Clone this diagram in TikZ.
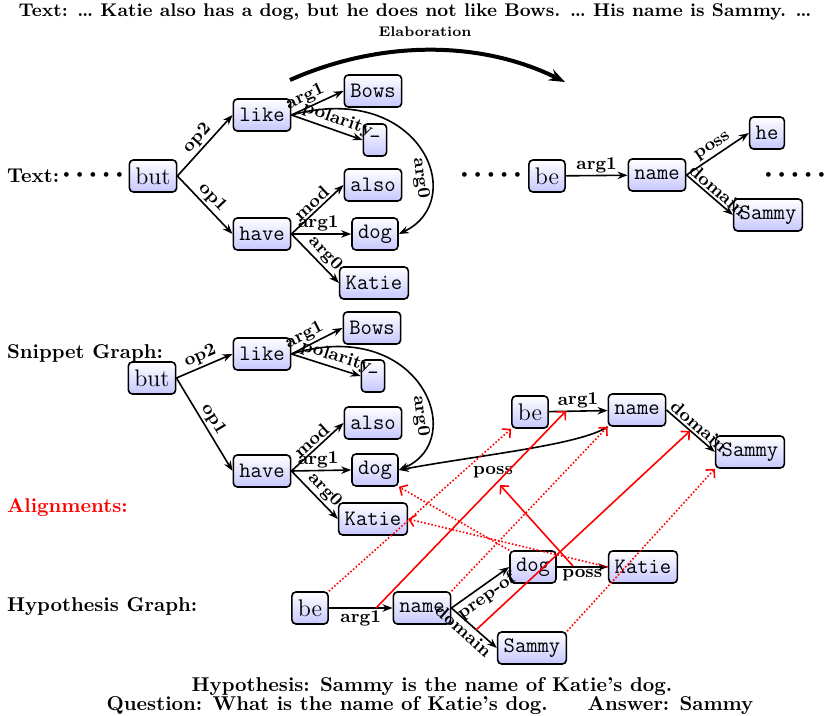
\documentclass[tikz,border=0pt]{standalone}
\usetikzlibrary{arrows.meta}
\begin{document}
\begin{tikzpicture}[x=0.5pt,y=-0.5pt,
 nd/.style={draw,thick,rounded corners=2pt,top color=white,bottom color=blue!22,font=\ttfamily\fontsize{11}{13}\selectfont,inner sep=3pt,minimum height=16pt},
 rm/.style={nd,font=\rmfamily\large},
 e/.style={-{Stealth[length=5pt]},thick},
 lb/.style={font=\bfseries\small,sloped,inner sep=1pt},
 al/.style={red,-{Straight Barb[length=3pt]},thick},
 ad/.style={al,densely dotted},
 hd/.style={font=\bfseries,anchor=west},
 dots/.style={font=\footnotesize,inner sep=0pt}]
\useasboundingbox (0,0) rectangle (831,716);
\node[font=\bfseries\fontsize{9.2}{11}\selectfont] (t1) at (415,12) {Text: \dots\ Katie also has a dog, but he does not like Bows. \dots\ His name is Sammy. \dots};
\coordinate (ea) at (290,80); \coordinate (eb) at (565,82);
\draw[line width=2pt,-{Stealth[length=8pt]}] (ea) .. controls (380,40) and (480,40) .. (eb);
\node[font=\bfseries\scriptsize] (el) at (425,32) {Elaboration};
\node[hd] (lt) at (0,176) {Text:};
\node[dots] (d1) at (93,176) {\textbullet\textbullet\textbullet\textbullet\textbullet};
\node[dots] (d2) at (491,176) {\textbullet\textbullet\textbullet\textbullet\textbullet};
\node[dots] (d3) at (795,176) {\textbullet\textbullet\textbullet\textbullet\textbullet};
% top graph
\node[rm] (but) at (153,176) {but};
\node[nd] (like) at (262,115) {like};
\node[nd] (have) at (262,234) {have};
\node[nd] (bows) at (373,91) {Bows};
\node[nd] (neg) at (375,140) {-};
\node[nd] (also) at (373,185) {also};
\node[nd] (dog) at (375,234) {dog};
\node[nd] (katie) at (374,283) {Katie};
\draw[e] (but.east) -- node[lb,above]{op2} (like.west);
\draw[e] (but.east) -- node[lb,above]{op1} (have.west);
\draw[e] (like.east) -- node[lb,above,pos=0.35]{arg1} (bows.west);
\draw[e] (like.east) -- node[lb,above,pos=0.6]{polarity} (neg.west);
\draw[e] (have.east) -- node[lb,above,pos=0.5]{mod} (also.west);
\draw[e] (have.east) -- node[lb,above,pos=0.45]{arg1} (dog.west);
\draw[e] (have.east) -- node[lb,above,pos=0.55]{arg0} (katie.west);
\draw[e] (like.east) .. controls (420,80) and (470,200) .. node[lb,below,pos=0.65]{arg0} (dog.east);
\node[rm] (be) at (547,176) {be};
\node[nd] (name) at (657,175) {name};
\node[nd] (he) at (767,133) {he};
\node[nd] (sam) at (768,215) {Sammy};
\draw[e] (be) -- node[lb,above]{arg1} (name);
\draw[e] (name.east) -- node[lb,above]{poss} (he.west);
\draw[e] (name.east) -- node[lb,above,pos=0.55]{domain} (sam.west);
% snippet
\node[hd] (ls) at (0,353) {Snippet Graph:};
\node[hd,red] (la) at (0,508) {Alignments:};
\node[hd] (lh) at (0,607) {Hypothesis Graph:};
\node[rm] (sbut) at (152,378) {but};
\node[nd] (slike) at (262,354) {like};
\node[nd] (shave) at (262,471) {have};
\node[nd] (sbows) at (372,328) {Bows};
\node[nd] (sneg) at (373,376) {-};
\node[nd] (salso) at (373,423) {also};
\node[nd] (sdog) at (375,470) {dog};
\node[nd] (skatie) at (373,519) {Katie};
\draw[e] (sbut.east) -- node[lb,above]{op2} (slike.west);
\draw[e] (sbut.east) -- node[lb,above]{op1} (shave.west);
\draw[e] (slike.east) -- node[lb,above,pos=0.35]{arg1} (sbows.west);
\draw[e] (slike.east) -- node[lb,above,pos=0.6]{polarity} (sneg.west);
\draw[e] (shave.east) -- node[lb,above,pos=0.5]{mod} (salso.west);
\draw[e] (shave.east) -- node[lb,above,pos=0.45]{arg1} (sdog.west);
\draw[e] (shave.east) -- node[lb,above,pos=0.55]{arg0} (skatie.west);
\draw[e] (slike.east) .. controls (420,315) and (470,440) .. node[lb,below,pos=0.65]{arg0} (sdog.east);
\node[rm] (sbe) at (530,412) {be};
\node[nd] (sname) at (637,410) {name};
\node[nd] (ssam) at (750,452) {Sammy};
\draw[e] (sbe) -- node[lb,above](sa1){arg1} (sname);
\draw[e] (sname.east) -- node[lb,above,pos=0.55]{domain} (ssam.west);
\draw[e] (sname.south west) .. controls (580,445) and (480,455) .. (sdog.east);
\node[font=\bfseries\small] (sposs) at (493,472) {poss};
% hypothesis
\node[rm] (hbe) at (310,608) {be};
\node[nd] (hname) at (422,608) {name};
\node[nd] (hdog) at (533,567) {dog};
\node[nd] (hkatie) at (643,567) {Katie};
\node[nd] (hsam) at (532,648) {Sammy};
\draw[e] (hbe) -- node[lb,below]{arg1} (hname);
\draw[e] (hname.east) -- node[lb,below]{prep-of} (hdog.west);
\draw[e] (hname.east) -- node[lb,below,pos=0.4]{domain} (hsam.west);
\draw[e] (hdog) -- node[lb,below]{poss} (hkatie);
% alignments
\coordinate (a1) at (376,608); \coordinate (b1) at (566,411);
\coordinate (a2) at (476,630); \coordinate (b2) at (690,431);
\coordinate (a3) at (573,566); \coordinate (b3) at (500,485);
\draw[al] (a1) -- (b1);
\draw[al] (a2) -- (b2);
\draw[al] (a3) -- (b3);
\draw[ad] (hbe.north east) -- (sbe.south west);
\draw[ad] (hname.north east) -- (sname.south west);
\draw[ad] (hdog.north west) -- (sdog.south east);
\draw[ad] (hkatie.west) -- (skatie.east);
\draw[ad] (hsam.north east) -- (ssam.south west);
\node[font=\bfseries] (hy) at (432,687) {Hypothesis: Sammy is the name of Katie's dog.};
\node[font=\bfseries] (qu) at (430,706) {Question: What is the name of Katie's dog.\qquad Answer: Sammy};
\end{tikzpicture}
\end{document}
